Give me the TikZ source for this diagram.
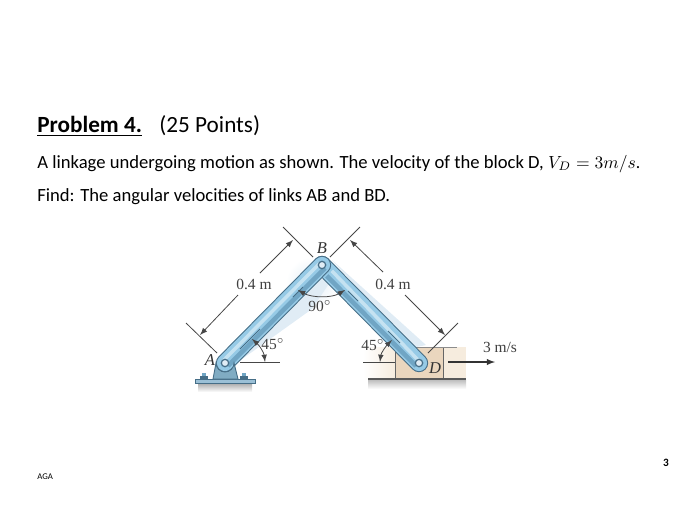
\documentclass[tikz,border=0pt]{standalone}
\usepackage{amsmath}
\usepackage{fontspec}
\setmainfont{Carlito}
\newfontfamily\figfont{Liberation Serif}
\usetikzlibrary{calc,shapes,backgrounds}
\definecolor{linkblue}{RGB}{150,202,230}
\definecolor{linkdark}{RGB}{70,110,135}
\definecolor{steelblue}{RGB}{112,165,196}
\definecolor{ghostblue}{RGB}{224,236,245}
\definecolor{blocktan}{RGB}{234,214,190}
\definecolor{blocklight}{RGB}{246,236,222}
\definecolor{dimgrey}{RGB}{70,70,70}
\tikzset{
  bodytext/.style={anchor=base west,inner sep=0pt,font=\fontsize{10.6pt}{12pt}\selectfont},
  figlabel/.style={inner sep=0pt,text=black!75,font=\figfont\fontsize{8.8pt}{10pt}\selectfont},
  figletter/.style={inner sep=0pt,text=black!80,font=\figfont\itshape\fontsize{9.4pt}{10pt}\selectfont},
  dimline/.style={dimgrey,line width=.45pt},
  pinhole/.style={circle,draw=linkdark,fill=ghostblue,line width=.7pt,minimum size=4.2pt,inner sep=0pt}
}
\begin{document}
\begin{tikzpicture}[x=.02cm,y=-.02cm,>=latex]
\useasboundingbox (0,0) rectangle (700,508);
% problem text
\node[bodytext,font=\fontsize{13.2pt}{15pt}\selectfont] (title) at (37,132) {\underline{\textbf{Problem 4.}}\hspace{.75em}(25 Points)};
\node[bodytext] (line1) at (37,168) {A linkage undergoing motion as shown. The velocity of the block D, {\fontsize{10pt}{12pt}\selectfont$V_D=3m/s$.}};
\node[bodytext] (line2) at (37,201) {Find: The angular velocities of links AB and BD.};
\node[anchor=base west,inner sep=0pt,font=\fontsize{5pt}{6pt}\selectfont] (aga) at (37,479) {AGA};
\node[anchor=base,inner sep=0pt,font=\fontsize{6.4pt}{7pt}\selectfont\bfseries] (page) at (666,466) {3};

% pins of the linkage
\coordinate (A) at (225,363);
\coordinate (B) at (322,265);
\coordinate (D) at (419,363);

% ghost shading behind the links
\shade[inner color=ghostblue, outer color=white] (312,283) circle (26);
\fill[ghostblue] (238,362) -- (326,272) -- (345,292) -- (330,282) -- (312,309) -- cycle;
\fill[ghostblue] (332,260) -- (426,345) -- (412,348) -- cycle;

% ground and block
\shade[top color=black!30, bottom color=white] (198,384) rectangle (252,392);
\shade[top color=black!25, bottom color=white] (368,380) rectangle (466,389);
\shade[left color=white, right color=blocklight] (363,347) rectangle (395,379);
\fill[blocklight] (443,347) rectangle (466,379);
\fill[blocktan] (395,347) rectangle (443,379);
\draw[black!60,line width=.5pt] (395,347) -- (395,379);
\draw[black!60,line width=.5pt] (443,347) -- (443,379);
\draw[black!45,line width=.4pt] (415,347) -- (457,347);
\draw[black!65,line width=.7pt] (368,379) -- (466,379);

% link BD
\draw[linkdark,line width=10.4pt,line cap=round] (B) -- (D);
\draw[linkblue,line width=9.2pt,line cap=round] (B) -- (D);
\draw[linkblue!55!white,line width=2pt] ($(B)!.08!(D)+(2,-2)$) -- ($(D)+(1,-1)$);
\draw[steelblue,line width=2.6pt] ($(B)!.08!(D)+(-3,3)$) -- ($(D)+(-3,3)$);
\draw[linkdark,line width=.5pt] (348,291) -- (358,301);
\draw[linkdark,line width=.5pt] (388,331) -- (400,343);

% link AB
\draw[linkdark,line width=10.4pt,line cap=round] (A) -- (B);
\draw[linkblue,line width=9.2pt,line cap=round] (A) -- (B);
\draw[linkblue!55!white,line width=2pt] ($(A)+(-2,-2)$) -- ($(B)+(-2,-2)$);
\draw[steelblue,line width=2.6pt] ($(A)+(3,3)$) -- ($(B)+(3,3)$);
\draw[linkdark,line width=.5pt] (240,349) -- (260,329);
\draw[linkdark,line width=.5pt] (293,297) -- (303,287);

% support at A
\fill[steelblue!70!white] (195,379) rectangle (255,383);
\draw[linkdark,line width=.5pt] (195,379) rectangle (255,383);
\foreach \bx in {204,244}{
  \fill[linkdark] (\bx-4,379) rectangle (\bx+4,376);
  \fill[steelblue] (\bx-2,376) rectangle (\bx+2,373);
}
\filldraw[fill=linkblue!85!black,draw=linkdark,line width=.5pt] (213,379) -- (216,363) arc[start angle=180,end angle=0,radius=9] -- (238,379) -- cycle;

% pins
\node[pinhole] (pinA) at (A) {};
\node[pinhole] (pinB) at (B) {};
\node[pinhole] (pinD) at (D) {};

% dimension lines
\coordinate (extAa) at (186,323);
\coordinate (extAb) at (217,353);
\coordinate (extBa) at (283,227);
\coordinate (extBb) at (313,257);
\coordinate (extCa) at (360,227);
\coordinate (extCb) at (330,257);
\coordinate (extDa) at (458,323);
\coordinate (extDb) at (428,353);
\draw[dimline] (extAa) -- (extAb);
\draw[dimline] (extBa) -- (extBb);
\draw[dimline] (extCa) -- (extCb);
\draw[dimline] (extDa) -- (extDb);
\node[figlabel] (lenAB) at (254,284) {0.4 m};
\node[figlabel] (lenBD) at (393,284) {0.4 m};
\coordinate (dimAa) at (200,335);
\coordinate (dimAb) at (238,295);
\coordinate (dimBa) at (260,273);
\coordinate (dimBb) at (293,240);
\draw[dimline,<-] (dimAa) -- (dimAb);
\draw[dimline,->] (dimBa) -- (dimBb);
\coordinate (dimCa) at (350,240);
\coordinate (dimCb) at (383,272);
\coordinate (dimDa) at (405,295);
\coordinate (dimDb) at (445,335);
\draw[dimline,<-] (dimCa) -- (dimCb);
\draw[dimline,->] (dimDa) -- (dimDb);

% angles
\coordinate (horA) at (240,362);
\coordinate (horAb) at (280,362);
\draw[dimline] (horA) -- (horAb);
\draw[dimline,<->] (252,339) .. controls (260,346) and (264,353) .. (265,362);
\node[figlabel] (angA) at (273,344) {45$^\circ$};
\draw[dimline,<->] (298,290) .. controls (312,298) and (332,298) .. (345,290);
\node[figlabel] (angB) at (320,306) {90$^\circ$};
\coordinate (horD) at (363,362);
\coordinate (horDb) at (395,362);
\draw[dimline] (horD) -- (horDb);
\draw[dimline,<->] (380,362) .. controls (381,353) and (386,346) .. (392,340);
\node[figlabel] (angD) at (373,345) {45$^\circ$};

% letters and velocity
\node[figletter] (labB) at (322,248) {B};
\node[figletter] (labA) at (210,360) {A};
\node[figletter] (labD) at (435,368) {D};
\coordinate (velS) at (448,362);
\coordinate (velE) at (495,362);
\draw[black!80,line width=.6pt,->] (velS) -- (velE);
\node[figlabel] (vel) at (500,347) {3 m/s};
\end{tikzpicture}
\end{document}
